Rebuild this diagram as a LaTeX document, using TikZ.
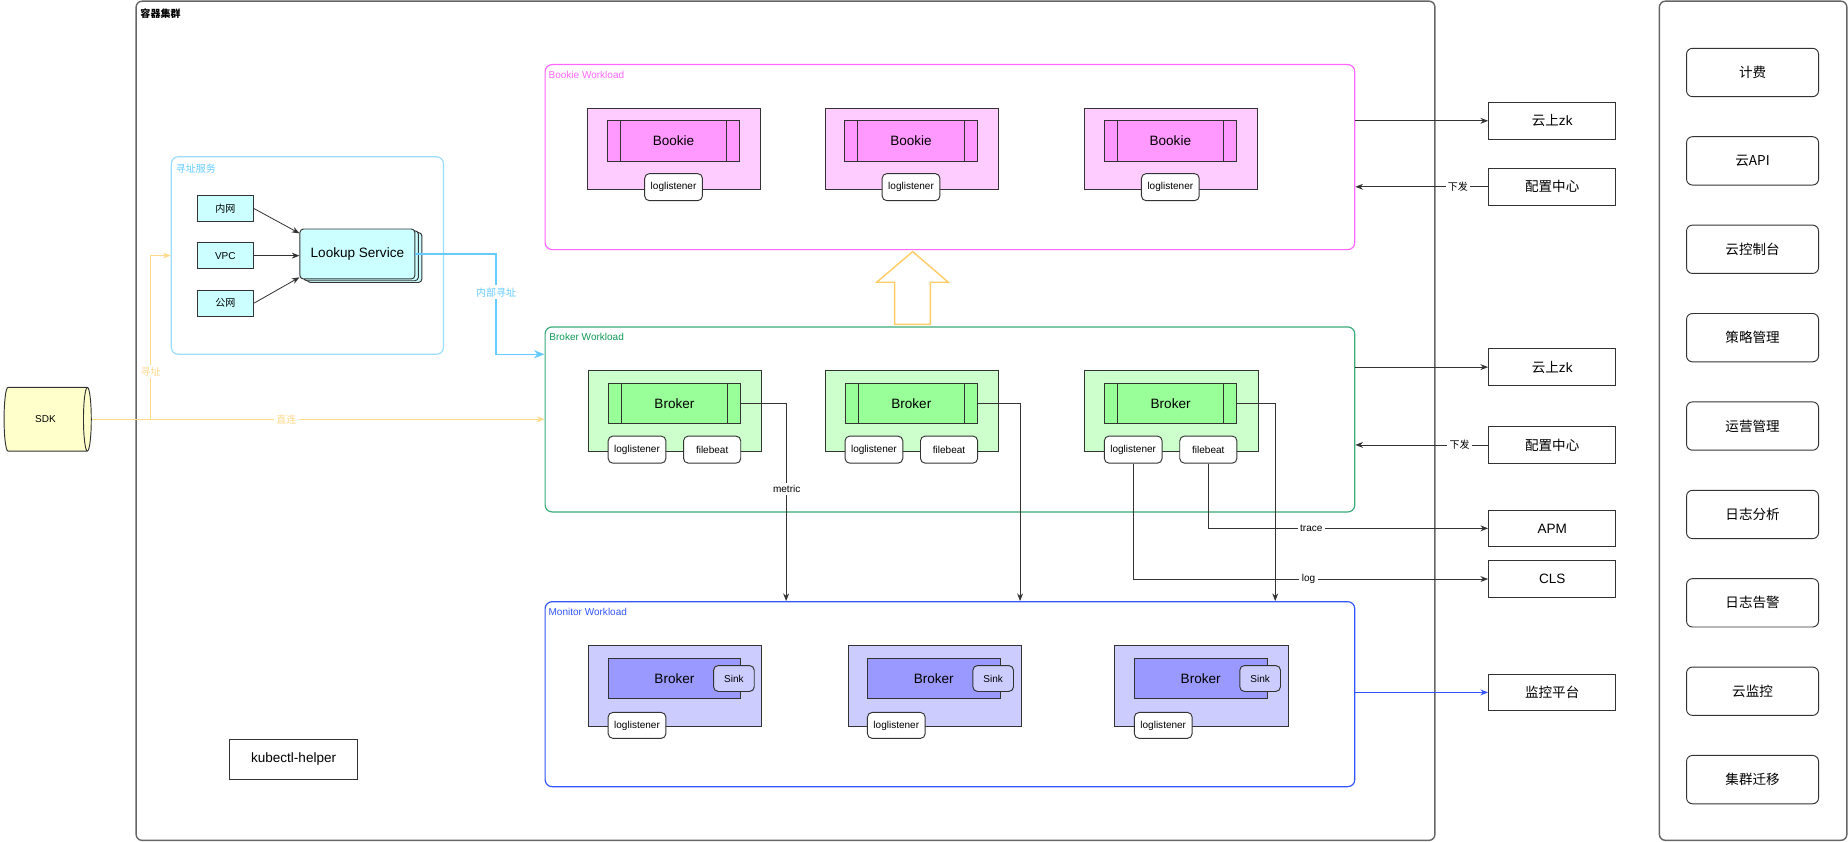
\documentclass[tikz,border=0pt]{standalone}
\usepackage{fontspec}
\setmainfont{Liberation Sans}
\newfontfamily\cjk{Noto Sans CJK SC}
\usetikzlibrary{shapes.geometric,arrows.meta}

\definecolor{edge}{HTML}{333333}
\definecolor{ctrline}{HTML}{666666}
\definecolor{bkline}{HTML}{FF66FF}
\definecolor{bkpod}{HTML}{FFCCFF}
\definecolor{bkproc}{HTML}{FF99FF}
\definecolor{brline}{HTML}{3BAA78}
\definecolor{brtext}{HTML}{109A55}
\definecolor{brpod}{HTML}{CCFFCC}
\definecolor{brproc}{HTML}{99FF99}
\definecolor{mnline}{HTML}{3355FF}
\definecolor{mnpod}{HTML}{CCCCFF}
\definecolor{mnproc}{HTML}{9999FF}
\definecolor{lkline}{HTML}{99DDFF}
\definecolor{lktext}{HTML}{66CCFF}
\definecolor{lkfill}{HTML}{CCFFFF}
\definecolor{sdkline}{HTML}{FFD98C}
\definecolor{sdkfill}{HTML}{FFFFCC}
\definecolor{upline}{HTML}{FFCC66}

\tikzset{
  lbl/.style={font=\fontsize{8.5}{10}\selectfont},
  big/.style={font=\fontsize{11.5}{13}\selectfont},
  box/.style={draw=edge,line width=0.8pt,big,minimum width=108pt,minimum height=31pt},
  tool/.style={box,rounded corners=5pt,minimum width=112pt,minimum height=41pt},
  frame/.style={draw,line width=1pt,rounded corners=6pt,minimum width=687pt,minimum height=157pt},
  pod/.style={draw=edge,line width=0.8pt,minimum width=147pt,minimum height=69pt},
  proc/.style={draw=edge,line width=0.8pt,minimum width=112.5pt,minimum height=34pt,big},
  side/.style={draw=edge,fill=white,rounded corners=4pt,line width=0.8pt,lbl,minimum width=49pt,minimum height=23pt},
  net/.style={draw=edge,fill=lkfill,line width=0.8pt,lbl,minimum width=48pt,minimum height=22pt},
  link/.style={draw=edge,line width=0.7pt},
  tag/.style={lbl,fill=white,inner sep=2pt}
}

\begin{document}
\begin{tikzpicture}[x=1pt,y=-1pt,>={Stealth[length=6.5pt,width=5pt]},every node/.style={inner sep=0pt}]
\useasboundingbox (0,0) rectangle (1568,714);

% outer frames
\node[draw=ctrline,line width=1.2pt,rounded corners=5pt,minimum width=1102pt,minimum height=712pt] (ctr) at (666.5,357) {};
\node[lbl,anchor=west] (ctrtitle) at (119,11.5) {\cjk\bfseries 容器集群};
\node[draw=ctrline,line width=1.2pt,rounded corners=5pt,minimum width=159pt,minimum height=712pt] (rp) at (1487.5,357) {};

% right panel
\foreach \t [count=\i] in {计费,云API,云控制台,策略管理,运营管理,日志分析,日志告警,云监控,集群迁移}
  \node[tool] (t\i) at (1487,{61.5+75*(\i-1)}) {\cjk \t};

% external services
\node[box] (zk1) at (1317,102.5) {{\cjk 云上}zk};
\node[box] (cf1) at (1317,158.5) {\cjk 配置中心};
\node[box] (zk2) at (1317,311.5) {{\cjk 云上}zk};
\node[box] (cf2) at (1317,377.5) {\cjk 配置中心};
\node[box] (apm) at (1317,448.3) {APM};
\node[box] (cls) at (1317,491.3) {CLS};
\node[box] (mp) at (1317,587.5) {\cjk 监控平台};

% workloads
\node[frame,draw=bkline] (bkw) at (806,133.3) {};
\node[lbl,text=bkline,anchor=west] (bkwtitle) at (465.3,63.6) {Bookie Workload};
\node[frame,draw=brline] (brw) at (806,355.9) {};
\node[lbl,text=brtext,anchor=west] (brwtitle) at (466,286.2) {Broker Workload};
\node[frame,draw=mnline] (mw) at (806,589) {};
\node[lbl,text=mnline,anchor=west] (mwtitle) at (465.3,519.5) {Monitor Workload};

% bookie pods
\foreach \n/\x in {1/498.5,2/700,3/920} {
  \node[pod,fill=bkpod] (bp\n) at (\x+73.5,126.3) {};
  \node[proc,fill=bkproc] (bk\n) at (\x+73,119.6) {Bookie};
  \draw[edge,line width=0.8pt] ([xshift=11.5pt]bk\n.north west) -- ([xshift=11.5pt]bk\n.south west);
  \draw[edge,line width=0.8pt] ([xshift=-11.5pt]bk\n.north east) -- ([xshift=-11.5pt]bk\n.south east);
  \node[side] (bl\n) at (\x+73,158.8) {loglistener};
}

% broker pods
\foreach \n/\x in {1/499.5,2/700.5,3/920.5} {
  \node[pod,fill=brpod] (pp\n) at (\x+73.5,348.9) {};
  \node[proc,fill=brproc] (br\n) at (\x+72.75,342.2) {Broker};
  \draw[edge,line width=0.8pt] ([xshift=11.5pt]br\n.north west) -- ([xshift=11.5pt]br\n.south west);
  \draw[edge,line width=0.8pt] ([xshift=-11.5pt]br\n.north east) -- ([xshift=-11.5pt]br\n.south east);
  \node[side] (ll\n) at (\x+41,381.5) {loglistener};
  \node[side,minimum width=48.5pt] (fb\n) at (\x+104.75,381.5) {filebeat};
}

% monitor pods
\foreach \n/\x in {1/499.5,2/719.5,3/946} {
  \node[pod,fill=mnpod] (mpod\n) at (\x+73.5,582) {};
  \node[proc,fill=mnproc] (mb\n) at (\x+72.75,575.5) {Broker};
  \node[side,fill=mnpod,minimum width=34.5pt,minimum height=22pt] (sk\n) at (\x+123.2,575.7) {Sink};
  \node[side,minimum height=22pt] (ml\n) at (\x+41,615.5) {loglistener};
}

% metric, trace, log
\draw[link,->] (br1.east) -| ([xshift=205pt]mw.north west);
\draw[link,->] (br2.east) -| ([xshift=403.5pt]mw.north west);
\draw[link,->] (br3.east) -| ([xshift=620pt]mw.north west);
\node[tag] (metric) at (667.5,415) {metric};
\draw[link,->] (fb3.south) |- node[tag,pos=0.684] (trace) {trace} (apm.west);
\draw[link,->] (ll3.south) |- node[tag,pos=0.747] (log) {log} (cls.west);

% workloads to external services
\draw[link,->] (bkw.east |- zk1.west) -- (zk1.west);
\draw[link,->] (cf1.west) -- node[tag,pos=0.227] (push1) {\cjk 下发} (bkw.east |- cf1.west);
\draw[link,->] (brw.east |- zk2.west) -- (zk2.west);
\draw[link,->] (cf2.west) -- node[tag,pos=0.214] (push2) {\cjk 下发} (brw.east |- cf2.west);
\draw[mnline,line width=0.8pt,->] (mw.east |- mp.west) -- (mp.west);

% broker up to bookie
\draw[upline,line width=1.2pt,fill=white] (759,275.2) -- (759,239.5) -- (743.8,239.5) -- (774.4,213.5)
  -- (804.6,239.5) -- (789.4,239.5) -- (789.4,275.2) -- cycle;

% lookup service
\node[draw=lkline,line width=1pt,rounded corners=6pt,minimum width=231pt,minimum height=167.6pt] (lkw) at (260.8,216.8) {};
\node[lbl,text=lktext,anchor=west] (lkwtitle) at (149,143) {\cjk 寻址服务};
\node[net] (nw) at (191.2,177) {\cjk 内网};
\node[net] (vpc) at (191.2,216.9) {VPC};
\node[net] (gw) at (191.2,257.2) {\cjk 公网};
\foreach \d in {6,3}
  \draw[edge,line width=0.8pt,fill=lkfill,rounded corners=3pt] (254.5+\d,194.3+\d/2) rectangle (352+\d,236.7+\d/2);
\node[draw=edge,line width=0.8pt,fill=lkfill,rounded corners=3pt,big,minimum width=97.5pt,minimum height=42.4pt] (lk) at (303.25,215.5) {Lookup Service};
\draw[link,->] (nw.east) -- ([yshift=17.5pt]lk.west);
\draw[link,->] (vpc.east) -- (vpc.east -| lk.west);
\draw[link,->] (gw.east) -- ([yshift=-19.8pt]lk.west);
\coordinate (turn) at (421,300.6);
\draw[lktext,line width=1.3pt,-{Stealth[length=9pt,width=7pt]}] (lk.east) -| (turn) -- (brw.west |- turn);
\node[tag,text=lktext] (inner) at (421,248) {\cjk 内部寻址};

% sdk
\node[cylinder,draw=edge,line width=0.8pt,fill=sdkfill,shape aspect=1.1,minimum width=54pt,minimum height=74pt,lbl] (sdk) at (38.6,355.7) {SDK};
\coordinate (fork) at (127.8,355.7);
\draw[sdkline,line width=0.8pt,->] (sdk.east) -- node[tag,text=sdkline,pos=0.43] (direct) {\cjk 直连} (brw.west |- sdk.east);
\draw[sdkline,line width=0.8pt,->] (fork) |- node[tag,text=sdkline,pos=0.146] (addr) {\cjk 寻址} (lkw.west);

% helper
\node[draw=edge,line width=0.8pt,big,minimum width=109pt,minimum height=34pt] (kh) at (249.1,644.2) {kubectl-helper};
\end{tikzpicture}
\end{document}
